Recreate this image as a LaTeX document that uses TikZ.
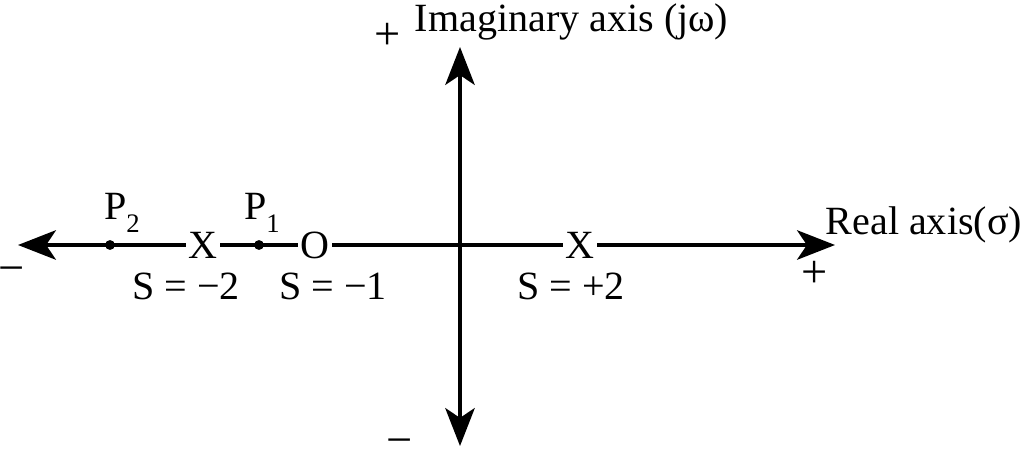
\documentclass[tikz,border=0pt]{standalone}
\usepackage{fontspec}
\setmainfont{Liberation Serif}
\usepackage{tikz}
\usetikzlibrary{positioning}
\usetikzlibrary{arrows.meta}

\newcommand{\sub}[1]{\raisebox{-0.32em}{\fontsize{19}{20}\selectfont #1}}

\tikzset{
  axis/.style={line width=2.2pt,-{Stealth[length=27pt,width=21pt,inset=7pt]}},
  txt/.style={font=\fontsize{28.5}{33}\selectfont,inner sep=1pt},
  polezero/.style={txt,fill=white,inner sep=1.5pt},
  sgn/.style={font=\fontsize{33}{36}\selectfont,inner sep=0pt},
  dot/.style={circle,fill=black,inner sep=0pt,minimum size=7pt}
}

\begin{document}
\begin{tikzpicture}[x=0.025cm,y=-0.025cm]
\useasboundingbox (0,0) rectangle (1024,467);
\coordinate (o) at (460,245);
\coordinate (left) at (18,245);
\coordinate (right) at (835,245);
\coordinate (top) at (460,47);
\coordinate (bottom) at (460,446);
\draw[axis] (o) -- (left);
\draw[axis] (o) -- (right);
\draw[axis] (o) -- (top);
\draw[axis] (o) -- (bottom);
\node[dot] (p2) at (110,245) {};
\node[polezero] (x1) at (203,245) {X};
\node[dot] (p1) at (259,245) {};
\node[polezero] (z1) at (315,245) {O};
\node[polezero] (x2) at (580,245) {X};
\node[txt] (p2lab) at (122,213) {P\sub{2}};
\node[txt] (p1lab) at (262,213) {P\sub{1}};
\node[txt] (s1) at (186,286) {S = −2};
\node[txt] (s2) at (333,286) {S = −1};
\node[txt] (s3) at (571,286) {S = +2};
\node[txt,anchor=west] (re) at (824,225) {Real axis(σ)};
\node[txt,anchor=west] (im) at (413,22) {Imaginary axis (jω)};
\node[sgn] (lminus) at (12,275) {−};
\node[sgn] (rplus) at (815,274) {+};
\node[sgn] (tplus) at (388,36) {+};
\node[sgn] (bminus) at (400,447) {−};
\end{tikzpicture}
\end{document}
